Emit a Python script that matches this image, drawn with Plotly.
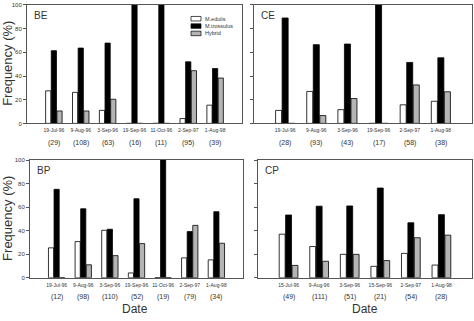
import plotly.graph_objects as go

W, H = 474, 321

series_names = ["M.edulis", "M.trossulus", "Hybrid"]
series_colors = ["#ffffff", "#000000", "#b4b4b4"]

be_dates = ["19-Jul-96", "9-Aug-96", "3-Sep-96", "19-Sep-96", "11-Oct-96", "2-Sep-97", "1-Aug-98"]
be_counts = ["(29)", "(108)", "(63)", "(16)", "(11)", "(95)", "(39)"]
be_edulis = [27.5, 26.2, 11.0, 0, 0, 4.1, 15.4]
be_trossulus = [61.4, 63.6, 67.8, 100, 100, 52.0, 46.3]
be_hybrid = [10.5, 10.5, 20.4, 0, 0, 44.5, 38.3]

ce_dates = ["19-Jul-96", "9-Aug-96", "3-Sep-96", "19-Sep-96", "2-Sep-97", "1-Aug-98"]
ce_counts = ["(28)", "(93)", "(43)", "(17)", "(58)", "(38)"]
ce_edulis = [11.0, 27.0, 11.6, 0, 15.7, 18.7]
ce_trossulus = [89.0, 66.5, 67.0, 100, 51.5, 55.4]
ce_hybrid = [0, 6.6, 21.0, 0, 32.5, 26.7]

bp_dates = ["19-Jul-96", "9-Aug-96", "3-Sep-96", "19-Sep-96", "11-Oct-96", "2-Sep-97", "1-Aug-98"]
bp_counts = ["(12)", "(98)", "(110)", "(52)", "(19)", "(79)", "(34)"]
bp_edulis = [25.4, 30.7, 40.3, 4.1, 0, 16.9, 15.2]
bp_trossulus = [75.1, 58.6, 41.2, 67.1, 100, 39.2, 56.1]
bp_hybrid = [0, 11.0, 18.8, 29.0, 0, 44.5, 29.3]

cp_dates = ["15-Jul-96", "9-Aug-96", "3-Sep-96", "15-Sep-96", "2-Sep-97", "1-Aug-98"]
cp_counts = ["(49)", "(111)", "(51)", "(21)", "(54)", "(28)"]
cp_edulis = [37.0, 26.5, 19.9, 9.7, 20.7, 10.8]
cp_trossulus = [53.3, 60.8, 61.0, 76.2, 46.7, 53.6]
cp_hybrid = [10.5, 14.0, 19.9, 14.6, 34.0, 36.2]

y_ticks = [0, 20, 40, 60, 80, 100]

# panel boxes in pixels: (left, right, top, bottom)
panels = [
    ("BE", be_dates, be_counts, [be_edulis, be_trossulus, be_hybrid], (27, 242, 2, 122.7), True),
    ("CE", ce_dates, ce_counts, [ce_edulis, ce_trossulus, ce_hybrid], (254, 472, 2, 122.7), False),
    ("BP", bp_dates, bp_counts, [bp_edulis, bp_trossulus, bp_hybrid], (30, 243, 160, 280), True),
    ("CP", cp_dates, cp_counts, [cp_edulis, cp_trossulus, cp_hybrid], (258, 472, 160, 280), False),
]

fig = go.Figure()
annotations = []
shapes = []
axis_color = "#555555"
text_color = "#333333"
FONT = "Arial, Liberation Sans"

for i, (name, dates, counts, vals, box, show_labels) in enumerate(panels):
    k = "" if i == 0 else str(i + 1)
    l, r, t, b = box
    xd = [l / W, r / W]
    yd = [1 - b / H, 1 - t / H]
    for s in range(3):
        fig.add_trace(go.Bar(
            x=dates, y=vals[s], name=series_names[s],
            marker=dict(color=series_colors[s], line=dict(color="#000000", width=0.8)),
            xaxis="x" + k, yaxis="y" + k, showlegend=False,
            offsetgroup=str(s),
        ))
    fig.layout["xaxis" + k] = dict(
        domain=xd, anchor="y" + k, type="category",
        range=[-1, len(dates)], showline=True, linecolor=axis_color, linewidth=1,
        mirror=True, ticks="", showgrid=False, zeroline=False, tickangle=0,
        tickfont=dict(size=5, color=text_color, family=FONT),
        ticklabelstandoff=2,
    )
    fig.layout["yaxis" + k] = dict(
        domain=yd, anchor="x" + k, range=[0, 100],
        tickvals=y_ticks, showticklabels=show_labels,
        ticks="outside", ticklen=3, tickcolor=axis_color,
        showline=True, linecolor=axis_color, linewidth=1, mirror=True,
        showgrid=False, zeroline=False,
        tickfont=dict(size=6, color=text_color, family=FONT),
    )
    for j, c in enumerate(counts):
        annotations.append(dict(
            x=dates[j], y=-(19.5 / (b - t)), xref="x" + k, yref="y" + k + " domain",
            text=c, showarrow=False, yanchor="middle", xanchor="center",
            font=dict(size=7, color=text_color, family=FONT),
        ))
    annotations.append(dict(
        x=(l + 5) / W, y=1 - (t + 3) / H, xref="paper", yref="paper",
        text=name, showarrow=False, xanchor="left", yanchor="top",
        font=dict(size=10, color=text_color, family=FONT),
    ))

# y axis titles
for cy in [62, 220]:
    annotations.append(dict(
        x=8 / W, y=1 - cy / H, xref="paper", yref="paper", text="Frequency (%)",
        textangle=-90, showarrow=False, xanchor="center", yanchor="middle",
        font=dict(size=13, color=text_color, family=FONT),
    ))
# x axis titles
for cx in [135, 365]:
    annotations.append(dict(
        x=cx / W, y=1 - 312 / H, xref="paper", yref="paper", text="Date",
        showarrow=False, xanchor="center", yanchor="middle",
        font=dict(size=12, color=text_color, family=FONT),
    ))

# manual legend inside BE panel
leg_x0, leg_y0, row_h = 191, 16, 7.5
for s in range(3):
    yc = leg_y0 + s * row_h
    shapes.append(dict(
        type="rect", xref="paper", yref="paper",
        x0=leg_x0 / W, x1=(leg_x0 + 10) / W,
        y0=1 - (yc + 2.3) / H, y1=1 - (yc - 2.3) / H,
        fillcolor=series_colors[s], line=dict(color="#000000", width=0.7),
    ))
    annotations.append(dict(
        x=(leg_x0 + 12) / W, y=1 - yc / H, xref="paper", yref="paper",
        text=series_names[s], showarrow=False, xanchor="left", yanchor="middle",
        font=dict(size=5.5, color=text_color, family=FONT),
    ))

fig.update_layout(
    width=W, height=H, margin=dict(l=0, r=0, t=0, b=0),
    paper_bgcolor="white", plot_bgcolor="white",
    barmode="group", bargap=0.37, bargroupgap=0.08,
    annotations=annotations, shapes=shapes, showlegend=False,
)

fig.write_html("out.html")
